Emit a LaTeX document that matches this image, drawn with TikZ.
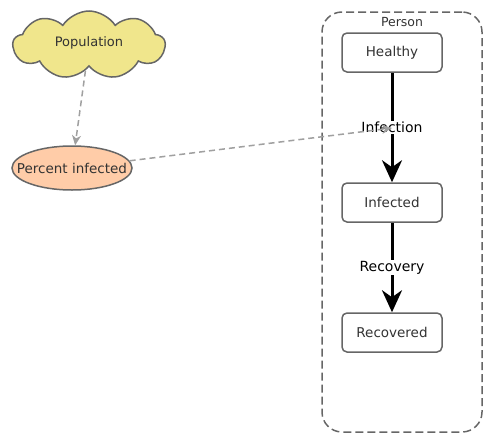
\documentclass[tikz,border=0pt]{standalone}
\usepackage{fontspec}
\setmainfont{DejaVu Sans}
\usetikzlibrary{shapes.geometric,shapes.symbols,arrows.meta}
\definecolor{strokegray}{HTML}{666666}
\definecolor{dashgray}{HTML}{A0A0A0}
\definecolor{khaki}{HTML}{F0E68C}
\definecolor{peach}{HTML}{FFCCA8}
\definecolor{textgray}{HTML}{333333}
\tikzset{
  statebox/.style={draw=strokegray,line width=1.5pt,rounded corners=5pt,minimum width=100pt,minimum height=39pt,fill=white,font=\fontsize{13.5}{16}\selectfont,text=textgray},
  flowarrow/.style={line width=3pt,-{Stealth[length=22pt,width=20pt,inset=7pt]}},
  flowlabel/.style={fill=white,inner sep=1pt,font=\fontsize{14}{16}\selectfont},
  linkarrow/.style={draw=dashgray,line width=1.5pt,dash pattern=on 6pt off 4pt,-{Stealth[length=10pt,width=9pt,inset=3pt]}}
}
\begin{document}
\begin{tikzpicture}[x=1pt,y=-1pt]
\useasboundingbox (0,0) rectangle (484,434);
% container
\node[draw=strokegray,line width=1.5pt,dash pattern=on 8pt off 4pt,rounded corners=20pt,minimum width=160pt,minimum height=420pt,inner sep=0pt] (person) at (402,222) {};
\node[font=\fontsize{12.5}{14}\selectfont,text=textgray,inner sep=0pt] (personlbl) at (402,22) {Person};
% cloud
\node[cloud,cloud puffs=9,cloud puff arc=115,aspect=2.2,draw=strokegray,line width=1.5pt,fill=khaki,minimum width=152pt,minimum height=68pt,inner sep=0pt] (pop) at (89,45) {};
\node[font=\fontsize{13}{15}\selectfont,text=textgray] (poptxt) at (89,43) {Population};
% ellipse
\node[ellipse,draw=strokegray,line width=1.5pt,fill=peach,minimum width=120pt,minimum height=44pt,inner sep=0pt] (pct) at (72,168) {};
\node[font=\fontsize{13.5}{16}\selectfont,text=textgray] (pcttxt) at (72,168) {Percent infected};
% states
\node[statebox] (healthy) at (392,52.5) {Healthy};
\node[statebox] (infected) at (392,202.5) {Infected};
\node[statebox] (recovered) at (392,332.5) {Recovered};
% flows
\draw[flowarrow] (healthy) -- node[flowlabel] (infl) {Infection} (infected);
\draw[flowarrow] (infected) -- node[flowlabel] (recl) {Recovery} (recovered);
\coordinate (infmid) at (392,128);
% links
\draw[linkarrow] (pop) -- (pct);
\draw[linkarrow] (pct) -- (infmid);
\end{tikzpicture}
\end{document}
